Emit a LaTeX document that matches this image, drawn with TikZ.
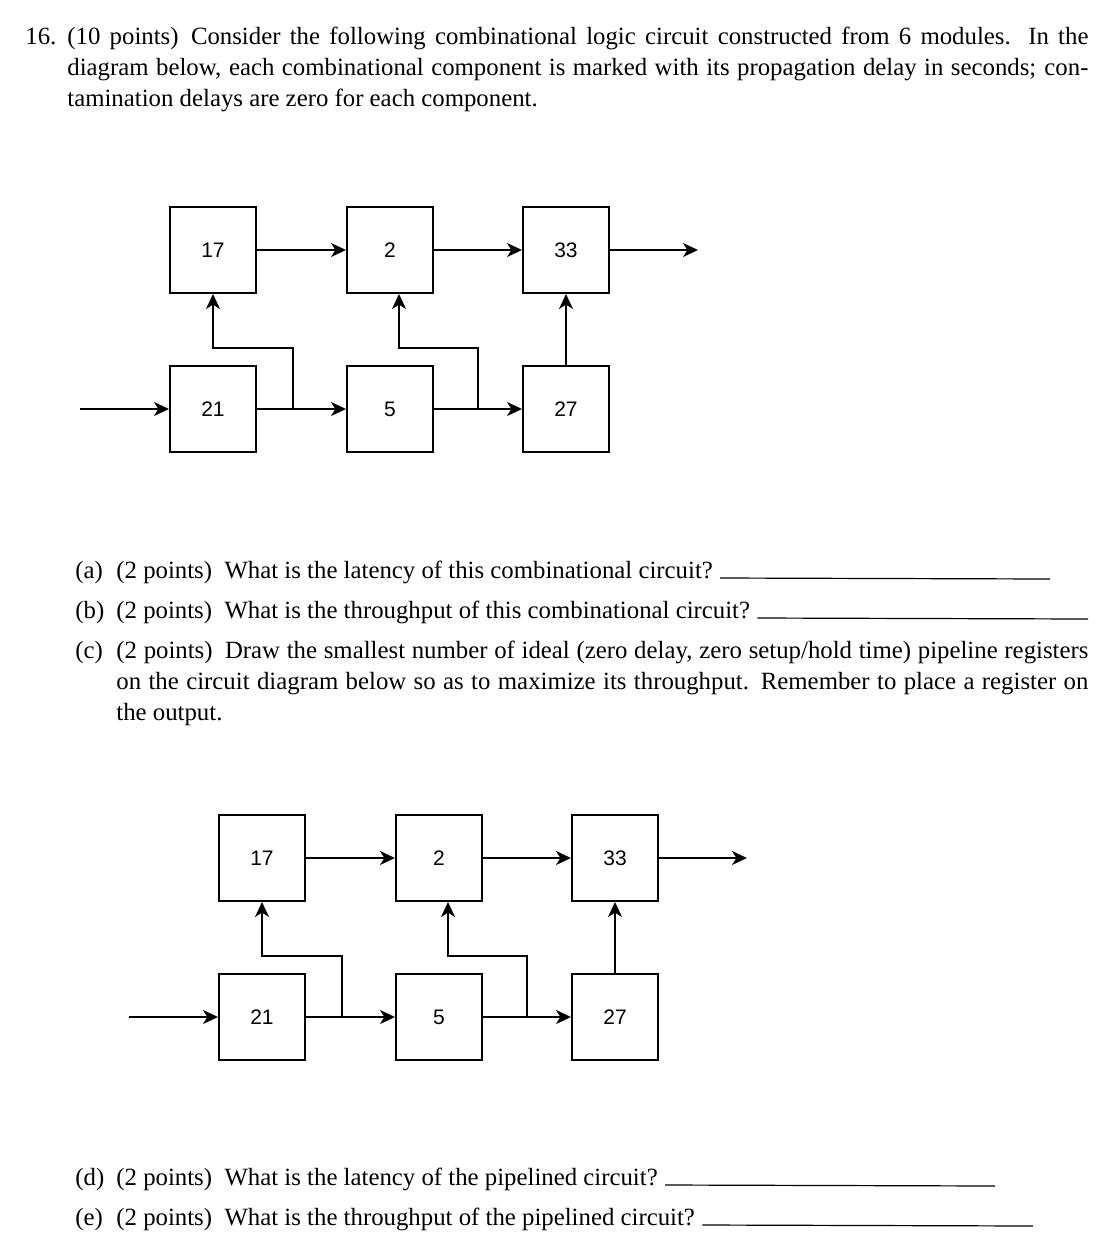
\documentclass[tikz,border=0pt]{standalone}
\usepackage{fontspec}
\setmainfont{Liberation Serif}
\setsansfont{Liberation Sans}
\usetikzlibrary{arrows.meta, positioning, calc}
\tikzset{
  modbox/.style={
    rectangle, draw, line width=1pt,
    minimum size=43pt, inner sep=0pt,
    font=\sffamily\fontsize{10.5}{12}\selectfont,
  },
  wire/.style={-{Stealth[length=7.5pt, width=7pt, inset=2.2pt]}, line width=0.9pt},
  txt/.style={anchor=base west, inner sep=0pt, font=\fontsize{12.4}{15}\selectfont},
  blank/.style={line width=0.6pt},
}

\begin{document}
\begin{tikzpicture}[x=0.5pt, y=-0.5pt]
\useasboundingbox (0,0) rectangle (1110,1260);

% ---- Enonce ----
\node[txt] (q16) at (25,44) {16.};
\node[txt] (q16l1) at (67,44) {\makebox[510.5pt][s]{(10 points)\enspace Consider the following combinational logic circuit constructed from 6 modules. In the}};
\node[txt] (q16l2) at (67,75) {\makebox[510.5pt][s]{diagram below, each combinational component is marked with its propagation delay in seconds; con-}};
\node[txt] (q16l3) at (67,106) {tamination delays are zero for each component.};

% ---- Circuit combinatoire ----
\begin{scope}[shift={(0,0)}]
\node[modbox] (a17) at (213,250) {17};
\node[modbox] (a2) at (390,250) {2};
\node[modbox] (a33) at (566,250) {33};
\node[modbox] (a21) at (213,409) {21};
\node[modbox] (a5) at (390,409) {5};
\node[modbox] (a27) at (566,409) {27};
\coordinate (ain) at (80,409);
\coordinate (aout) at (698,250);
\coordinate (aj1) at (293,409);
\coordinate (aj2) at (478,409);
\draw[wire] (ain) -- (a21);
\draw[wire] (a21) -- (a5);
\draw[wire] (a5) -- (a27);
\draw[wire] (a17) -- (a2);
\draw[wire] (a2) -- (a33);
\draw[wire] (a33) -- (aout);
\draw[wire] (a27) -- (a33);
\draw[wire] (aj1) -- ++(0,-61) -| (a17.south);
\draw[wire] (aj2) -- ++(0,-61) -| ([xshift=4.5pt]a2.south);
\end{scope}

% ---- Questions (a) a (c) ----
\node[txt] (qa) at (75,578) {(a)};
\node[txt] (qatxt) at (116,578) {(2 points)\enspace What is the latency of this combinational circuit?};
\draw[blank] ([xshift=3.5pt]qatxt.base east) -- (1050,579);
\node[txt] (qb) at (75,618) {(b)};
\node[txt] (qbtxt) at (116,618) {(2 points)\enspace What is the throughput of this combinational circuit?};
\draw[blank] ([xshift=3.5pt]qbtxt.base east) -- (1088,619);
\node[txt] (qc) at (75,658) {(c)};
\node[txt] (qcl1) at (116,658) {\makebox[486pt][s]{(2 points)\enspace Draw the smallest number of ideal (zero delay, zero setup/hold time) pipeline registers}};
\node[txt] (qcl2) at (116,689) {\makebox[486pt][s]{on the circuit diagram below so as to maximize its throughput. Remember to place a register on}};
\node[txt] (qcl3) at (116,720) {the output.};

% ---- Circuit a pipeliner ----
\begin{scope}[shift={(49,608)}]
\node[modbox] (b17) at (213,250) {17};
\node[modbox] (b2) at (390,250) {2};
\node[modbox] (b33) at (566,250) {33};
\node[modbox] (b21) at (213,409) {21};
\node[modbox] (b5) at (390,409) {5};
\node[modbox] (b27) at (566,409) {27};
\coordinate (bin) at (80,409);
\coordinate (bout) at (698,250);
\coordinate (bj1) at (293,409);
\coordinate (bj2) at (478,409);
\draw[wire] (bin) -- (b21);
\draw[wire] (b21) -- (b5);
\draw[wire] (b5) -- (b27);
\draw[wire] (b17) -- (b2);
\draw[wire] (b2) -- (b33);
\draw[wire] (b33) -- (bout);
\draw[wire] (b27) -- (b33);
\draw[wire] (bj1) -- ++(0,-61) -| (b17.south);
\draw[wire] (bj2) -- ++(0,-61) -| ([xshift=4.5pt]b2.south);
\end{scope}

% ---- Questions (d) et (e) ----
\node[txt] (qd) at (75,1185) {(d)};
\node[txt] (qdtxt) at (116,1185) {(2 points)\enspace What is the latency of the pipelined circuit?};
\draw[blank] ([xshift=3.5pt]qdtxt.base east) -- (995,1186);
\node[txt] (qe) at (75,1225) {(e)};
\node[txt] (qetxt) at (116,1225) {(2 points)\enspace What is the throughput of the pipelined circuit?};
\draw[blank] ([xshift=3.5pt]qetxt.base east) -- (1033,1226);

\end{tikzpicture}
\end{document}
